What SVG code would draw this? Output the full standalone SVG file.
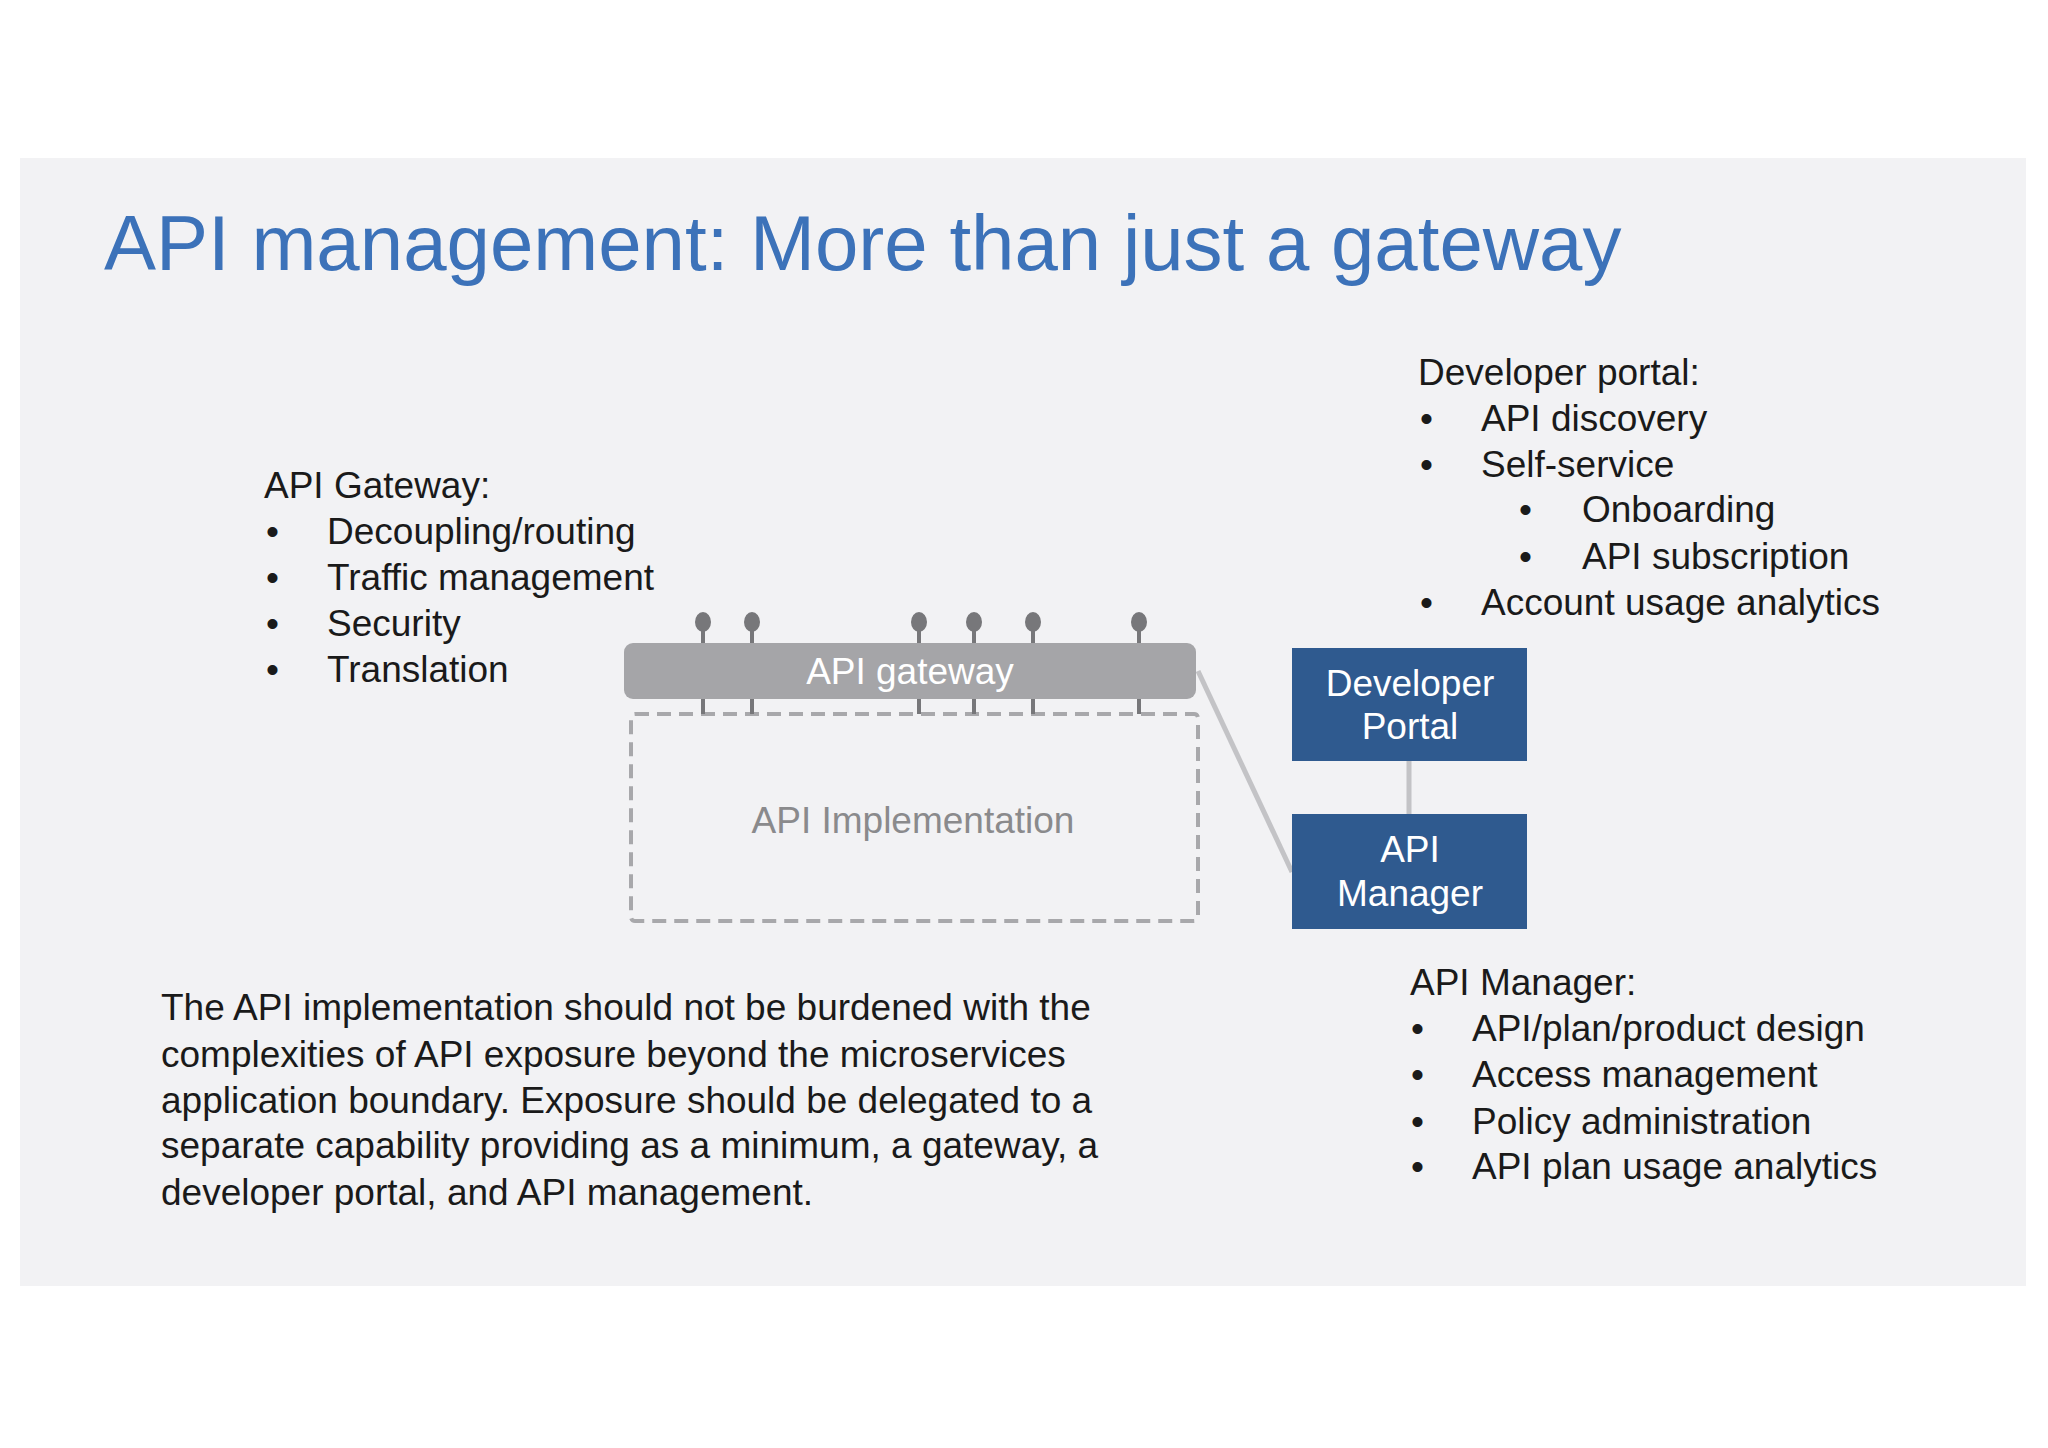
<svg xmlns="http://www.w3.org/2000/svg" width="2048" height="1448" viewBox="0 0 2048 1448">
<style>
text{font-family:"Liberation Sans",Arial,sans-serif;}
.t{font-size:37px;fill:#1a1a1a;}
.w{font-size:37px;fill:#ffffff;text-anchor:middle;}
.pin{fill:#77777a;}
.stem{stroke:#77777a;stroke-width:4;}
.conn{stroke:#c3c3c6;stroke-width:5;fill:none;}
</style>
<rect x="0" y="0" width="2048" height="1448" fill="#ffffff"/>
<rect x="20" y="158" width="2006" height="1128" fill="#f2f2f4"/>
<text x="104" y="270" font-size="78" fill="#3c72b9">API management: More than just a gateway</text>

<g id="gateway-list" class="t">
<text x="264" y="498" class="t">API Gateway:</text>
<text x="266" y="544" class="t">•</text><text x="327" y="544" class="t">Decoupling/routing</text>
<text x="266" y="590" class="t">•</text><text x="327" y="590" class="t">Traffic management</text>
<text x="266" y="636" class="t">•</text><text x="327" y="636" class="t">Security</text>
<text x="266" y="682" class="t">•</text><text x="327" y="682" class="t">Translation</text>
</g>

<g id="connectors">
<line class="conn" x1="1198" y1="671" x2="1292" y2="872"/>
<line class="conn" x1="1409" y1="761" x2="1409" y2="814"/>
</g>

<g id="api-implementation">
<rect x="631" y="714" width="567" height="207" rx="4" fill="none" stroke="#a8a8ab" stroke-width="4" stroke-dasharray="14 8"/>
<text x="913" y="833" font-size="37" fill="#8a8a8c" text-anchor="middle">API Implementation</text>
</g>

<g id="api-gateway">
<g class="stem">
<line x1="703" y1="623" x2="703" y2="714"/><line x1="752" y1="623" x2="752" y2="714"/>
<line x1="919" y1="623" x2="919" y2="714"/><line x1="974" y1="623" x2="974" y2="714"/>
<line x1="1033" y1="623" x2="1033" y2="714"/><line x1="1139" y1="623" x2="1139" y2="714"/>
</g>
<g class="pin">
<ellipse cx="703" cy="622" rx="8" ry="10"/><ellipse cx="752" cy="622" rx="8" ry="10"/>
<ellipse cx="919" cy="622" rx="8" ry="10"/><ellipse cx="974" cy="622" rx="8" ry="10"/>
<ellipse cx="1033" cy="622" rx="8" ry="10"/><ellipse cx="1139" cy="622" rx="8" ry="10"/>
</g>
<rect x="624" y="643" width="572" height="56" rx="9" fill="#a5a5a8"/>
<text x="910" y="684" class="w">API gateway</text>
</g>

<g id="developer-portal">
<rect x="1292" y="648" width="235" height="113" fill="#2f5a8f"/>
<text x="1410" y="696" class="w">Developer</text>
<text x="1410" y="739" class="w">Portal</text>
</g>

<g id="api-manager">
<rect x="1292" y="814" width="235" height="115" fill="#2f5a8f"/>
<text x="1410" y="862" class="w">API</text>
<text x="1410" y="906" class="w">Manager</text>
</g>

<g id="portal-list">
<text x="1418" y="385" class="t">Developer portal:</text>
<text x="1420" y="431" class="t">•</text><text x="1481" y="431" class="t">API discovery</text>
<text x="1420" y="477" class="t">•</text><text x="1481" y="477" class="t">Self-service</text>
<text x="1519" y="522" class="t">•</text><text x="1582" y="522" class="t">Onboarding</text>
<text x="1519" y="569" class="t">•</text><text x="1582" y="569" class="t">API subscription</text>
<text x="1420" y="615" class="t">•</text><text x="1481" y="615" class="t">Account usage analytics</text>
</g>

<g id="manager-list">
<text x="1410" y="995" class="t">API Manager:</text>
<text x="1411" y="1041" class="t">•</text><text x="1472" y="1041" class="t">API/plan/product design</text>
<text x="1411" y="1087" class="t">•</text><text x="1472" y="1087" class="t">Access management</text>
<text x="1411" y="1134" class="t">•</text><text x="1472" y="1134" class="t">Policy administration</text>
<text x="1411" y="1179" class="t">•</text><text x="1472" y="1179" class="t">API plan usage analytics</text>
</g>

<g id="paragraph">
<text x="161" y="1020" class="t">The API implementation should not be burdened with the</text>
<text x="161" y="1067" class="t">complexities of API exposure beyond the microservices</text>
<text x="161" y="1113" class="t">application boundary. Exposure should be delegated to a</text>
<text x="161" y="1158" class="t">separate capability providing as a minimum, a gateway, a</text>
<text x="161" y="1205" class="t">developer portal, and API management.</text>
</g>
</svg>
